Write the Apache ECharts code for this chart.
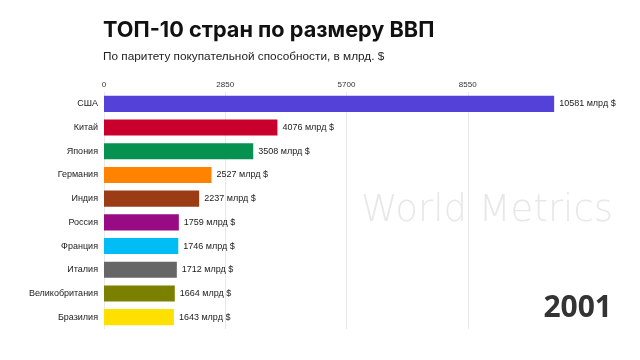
<!DOCTYPE html>
<html><head><meta charset="utf-8">
<script src="https://cdn.jsdelivr.net/npm/echarts@6/dist/echarts.min.js"></script>
<style>html,body{margin:0;padding:0;background:#fff}#c{width:640px;height:360px}</style>
</head><body><div id="c"></div>
<script>
const countries = ['США','Китай','Япония','Германия','Индия','Россия','Франция','Италия','Великобритания','Бразилия'];
const values = [10581,4076,3508,2527,2237,1759,1746,1712,1664,1643];
const colors = ['#5442d8','#c9002b','#079150','#ff8200','#9b3c14','#990a85','#00bdf5','#666666','#7a8000','#ffe000'];
const tickInterval = 2850;
const year = '2001';
const titleText = 'ТОП-10 стран по размеру ВВП';
const subtitleText = 'По паритету покупательной способности, в млрд. $';
const unit = ' млрд $';

const chart = echarts.init(document.getElementById('c'));
chart.setOption({
  animation:false,
  title:[
    {text:titleText,left:98,top:14,textStyle:{fontFamily:'Inter',fontWeight:'bold',fontSize:21.7,color:'#111'}},
    {text:subtitleText,left:98,top:46,textStyle:{fontFamily:'Liberation Sans',fontWeight:'normal',fontSize:11.8,color:'#222'}}
  ],
  graphic:[
    {type:'text',right:27,top:193,z:0,style:{text:'World Metrics',font:'200 37px "DejaVu Sans"',fill:'#e8e8e8'}},
    {type:'text',right:28,top:293,z:10,style:{text:year,font:'bold 30px "Open Sans"',fill:'#333'}}
  ],
  grid:{left:104,right:51,top:92,bottom:31},
  xAxis:{type:'value',position:'top',min:0,max:tickInterval*4,interval:tickInterval,
    axisLine:{show:false},axisTick:{show:false},
    axisLabel:{fontSize:8,color:'#333',fontFamily:'Liberation Sans',margin:3,showMaxLabel:false,formatter:v=>String(v)},
    splitLine:{lineStyle:{color:'#e8e8e8'},showMaxLine:false}},
  yAxis:{type:'category',inverse:true,data:countries,
    axisLine:{show:false},axisTick:{show:false},
    axisLabel:{fontSize:9,color:'#222',fontFamily:'Liberation Sans',margin:6}},
  series:[{type:'bar',barWidth:'68%',
    data:values.map((v,i)=>({value:v,itemStyle:{color:colors[i]}})),
    label:{show:true,position:'right',distance:5,fontSize:9,color:'#222',fontFamily:'Liberation Sans',formatter:p=>p.value+unit}}]
});
</script></body></html>
